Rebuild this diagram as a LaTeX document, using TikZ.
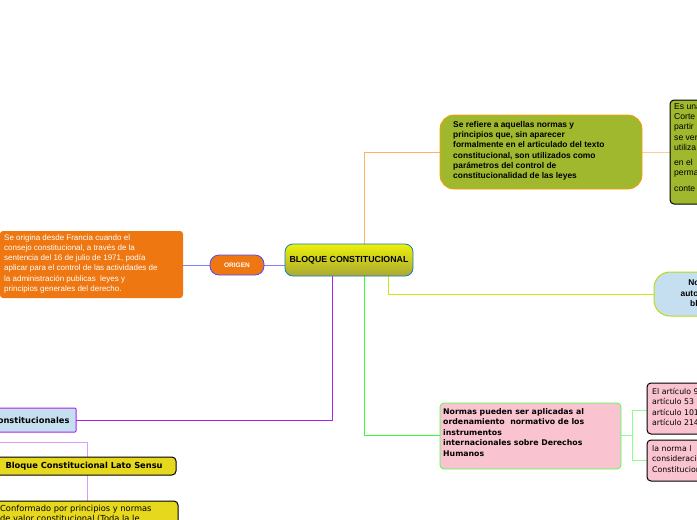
\documentclass[tikz,border=0pt]{standalone}
\usepackage{fontspec}
\setmainfont{Liberation Sans}
\newfontfamily\dv{DejaVu Sans}
\begin{document}
\begin{tikzpicture}[x=1pt,y=-1pt,
 box/.style={rounded corners=4pt,line width=0.8pt,inner sep=0pt},
 txt/.style={align=left,anchor=north west,inner sep=0pt,font=\fontsize{8}{9.5}\selectfont},
 ln/.style={line width=0.8pt}]
\useasboundingbox (0,0) rectangle (697,520);
\clip (0,0) rectangle (697,520);
\definecolor{olive}{HTML}{A0B82E}
\definecolor{orng}{HTML}{EE7711}
\definecolor{pinkf}{HTML}{F9C4D0}
\definecolor{lblue}{HTML}{C6DFF0}
\definecolor{ylw}{HTML}{E6D81C}
\definecolor{purp}{HTML}{AA22EE}
% connectors
\coordinate (c1) at (364,152);
\draw[ln,color=orange!60] (364,244) -- (c1) -- (440,152);
\draw[ln,color=orange!40] (642,152) -- (670,152);
\draw[ln,color=yellow!80!green] (388,276) -- (388,294) -- (654,294);
\draw[ln,color=green!80] (364,276) -- (364,435) -- (440,435);
\draw[ln,color=green!45] (621,435) -- (632,435) (632,410) -- (632,460) (632,410) -- (647,410) (632,460) -- (647,460);
\draw[ln,color=purp] (332,276) -- (332,420) -- (76,420);
\draw[ln,color=purp!45] (0,442) -- (87,442) -- (87,501);
\draw[ln,color=blue!50] (183,265) -- (285,265);
% nodes
\path[box,draw=orange!80!yellow,fill=olive,rounded corners=14pt] (440,115) rectangle (642,189);
\node[txt,font=\fontsize{8.4}{10.3}\selectfont\bfseries] (t1) at (453,121) {Se refiere a aquellas normas y\\principios que, sin aparecer\\formalmente en el articulado del texto\\constitucional, son utilizados como\\parámetros del control de\\constitucionalidad de las leyes};
\path[box,draw=black,fill=olive,line width=1pt] (670,100) rectangle (760,204);
\node[txt,font=\fontsize{8.6}{10.3}\selectfont] (t2) at (674,103) {Es una\\Corte\\partir\\se ver\\utiliza\\[5pt]en el\\perma\\[5pt]conte};
\path[box,draw=yellow!70!green,fill=lblue,rounded corners=16pt,line width=1pt] (654,272) rectangle (760,316);
\node[font=\fontsize{8.4}{10.5}\selectfont\bfseries,align=center] (t3) at (704,294) {Normas\\autorizadas\\bloque};
\path[box,draw=green!70,fill=pinkf] (440,403) rectangle (621,469);
\node[txt,font=\dv\fontsize{7.8}{10.5}\selectfont\bfseries] (t4) at (443,408) {Normas pueden ser aplicadas al\\ordenamiento\ \ normativo de los\\instrumentos\\internacionales sobre Derechos\\Humanos};
\path[box,draw=black,fill=pinkf,line width=1pt] (647,383) rectangle (760,434);
\node[txt,font=\dv\fontsize{7.8}{10.5}\selectfont] (t5) at (652,388) {El artículo 93\\artículo 53\\artículo 101\\artículo 214};
\path[box,draw=black,fill=pinkf,line width=1pt] (647,440) rectangle (760,481);
\node[txt,font=\dv\fontsize{7.8}{10.5}\selectfont] (t6) at (652,445) {la norma l\\consideracio\\Constitucion};
\path[box,draw=purp,fill=lblue,rounded corners=1pt,line width=1pt] (-60,408) rectangle (76,432);
\node[anchor=east,font=\dv\fontsize{8.3}{10}\selectfont\bfseries] (t7) at (73,420) {Normas constitucionales};
\path[box,draw=black,fill=ylw,line width=1pt] (-10,457) rectangle (176,475);
\node[anchor=west,font=\dv\fontsize{8.3}{10}\selectfont\bfseries] (t8) at (2,466) {Bloque Constitucional Lato Sensu};
\path[box,draw=black,fill=ylw,line width=1pt] (-10,501) rectangle (178,540);
\node[txt,font=\dv\fontsize{8.3}{10}\selectfont] (t9) at (0,505) {Conformado por principios y normas\\de valor constitucional (Toda la le};
\path[box,draw=none,fill=orng,rounded corners=3pt] (0,231) rectangle (183,298);
\node[txt,text=white,font=\fontsize{8}{10.3}\selectfont] (t10) at (4,234) {Se origina desde Francia cuando el\\consejo constitucional, a través de la\\sentencia del 16 de julio de 1971, podía\\aplicar para el control de las actividades de\\la administración publicas\ \ leyes y\\principios generales del derecho.};
\path[box,draw=blue!70,fill=orng,rounded corners=9pt] (210,255) rectangle (264,275);
\node[text=white,font=\fontsize{6.5}{8}\selectfont\bfseries] (o) at (237,265) {ORIGEN};
\shade[top color=yellow!80!olive,bottom color=olive!70!brown,rounded corners=8pt] (285,244) rectangle (413,276);
\draw[cyan!60!blue,line width=0.8pt,rounded corners=8pt] (285,244) rectangle (413,276);
\node[font=\fontsize{8.8}{10}\selectfont\bfseries] (c) at (349,260) {BLOQUE CONSTITUCIONAL};
\end{tikzpicture}
\end{document}
